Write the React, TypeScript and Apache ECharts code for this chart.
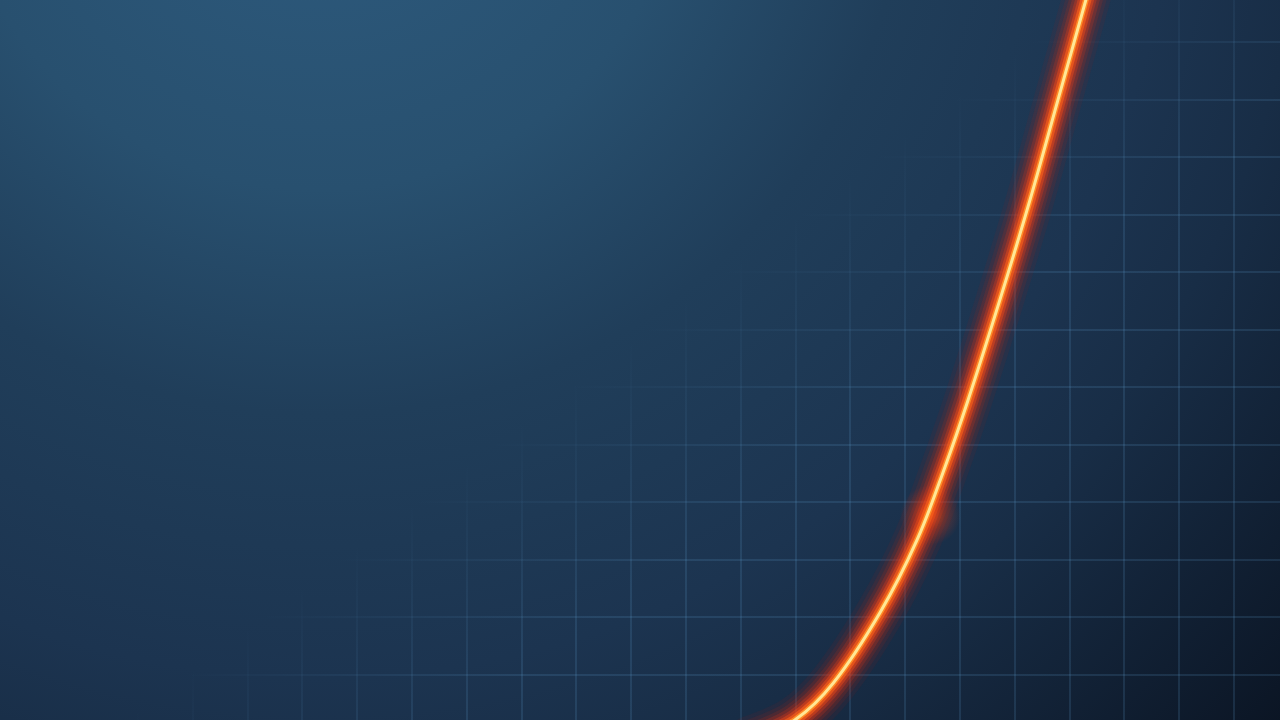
import React, { useEffect, useRef } from "react";
import * as echarts from "echarts";

// Curve samples (axis units: one grid cell = 1)
const curveX = [13.17, 13.99, 14.69, 15.54, 16.22, 16.73, 17.15, 17.73, 18.28, 18.79, 19.3, 19.45];
const curveY = [-1.14, -0.79, -0.15, 1.07, 2.34, 3.61, 4.77, 6.51, 8.25, 9.99, 11.73, 12.25];

// Bright flare spots along the curve
const glowX = [16.46, 13.75];
const glowY = [2.77, -0.75];
const glowSize = [60, 80];

const gridInterval = 1;
const xMax = 22.843;
const yMax = 11.73;

// Soft halo built from stacked translucent strokes (outer to inner)
const haloWidths = [48, 40, 33, 27, 21, 16, 11];
const haloColors = [
  "rgba(190,30,10,0.08)",
  "rgba(210,35,10,0.10)",
  "rgba(230,45,10,0.13)",
  "rgba(250,55,15,0.18)",
  "rgba(255,65,20,0.25)",
  "rgba(255,80,20,0.38)",
  "rgba(255,100,25,0.6)",
];

export default function App() {
  const ref = useRef<HTMLDivElement>(null);

  useEffect(() => {
    if (!ref.current) return;
    const chart = echarts.init(ref.current, undefined, { renderer: "svg" });
    const curve = curveX.map((x, i) => [x, curveY[i]]);
    const glow = glowX.map((x, i) => ({ value: [x, glowY[i]], symbolSize: glowSize[i] }));

    const gridFade = {
      type: "linear",
      x: 390,
      y: 520,
      x2: 510,
      y2: 680,
      global: true,
      colorStops: [
        { offset: 0, color: "rgba(95,160,210,0)" },
        { offset: 1, color: "rgba(95,160,210,0.22)" },
      ],
    };

    const hidden = {
      axisLine: { show: false },
      axisTick: { show: false },
      axisLabel: { show: false },
    };

    const curveLayer = (width: number, color: string, z: number) => ({
      type: "line",
      xAxisIndex: 1,
      yAxisIndex: 1,
      data: curve,
      smooth: 0.35,
      showSymbol: false,
      clip: false,
      silent: true,
      z,
      lineStyle: { width, color, cap: "round", join: "round" },
    });

    chart.setOption({
      animation: false,
      graphic: [
        {
          type: "rect",
          z: -10,
          silent: true,
          shape: { x: 0, y: 0, width: 1280, height: 720 },
          style: {
            fill: {
              type: "radial",
              x: 320,
              y: -180,
              r: 1320,
              global: true,
              colorStops: [
                { offset: 0, color: "#2e5c80" },
                { offset: 0.28, color: "#28506f" },
                { offset: 0.45, color: "#203e5a" },
                { offset: 0.65, color: "#1c3450" },
                { offset: 0.75, color: "#182d46" },
                { offset: 1, color: "#0b1524" },
              ],
            },
          },
        },
      ],
      grid: [
        { left: 28.2, right: 0, top: 0, bottom: 0, containLabel: false },
        { left: 28.2, right: 0, top: 0, bottom: 45.5, containLabel: false },
      ],
      xAxis: [
        {
          type: "value",
          gridIndex: 0,
          min: 0,
          max: xMax,
          interval: gridInterval,
          ...hidden,
          splitLine: { show: true, showMinLine: true, showMaxLine: false, lineStyle: { color: gridFade, width: 1.5 } },
        },
        {
          type: "value",
          gridIndex: 1,
          min: 0,
          max: xMax,
          interval: gridInterval,
          ...hidden,
          splitLine: { show: false },
        },
      ],
      yAxis: [
        {
          type: "value",
          gridIndex: 0,
          min: 0,
          max: 1,
          ...hidden,
          splitLine: { show: false },
        },
        {
          type: "value",
          gridIndex: 1,
          min: 0,
          max: yMax,
          interval: gridInterval,
          ...hidden,
          splitLine: { show: true, showMinLine: true, showMaxLine: false, lineStyle: { color: gridFade, width: 1.5 } },
        },
      ],
      series: [
        {
          type: "scatter",
          xAxisIndex: 1,
          yAxisIndex: 1,
          data: glow,
          silent: true,
          z: 1,
          itemStyle: {
            color: {
              type: "radial",
              x: 0.5,
              y: 0.5,
              r: 0.5,
              colorStops: [
                { offset: 0, color: "rgba(255,130,45,0.75)" },
                { offset: 0.45, color: "rgba(255,75,15,0.35)" },
                { offset: 1, color: "rgba(255,50,10,0)" },
              ],
            },
          },
        },
        ...haloWidths.map((w, i) => curveLayer(w, haloColors[i], 2 + i)),
        curveLayer(6, "#ff8a26", 10),
        curveLayer(3, "#ffe796", 11),
      ],
    });
    return () => chart.dispose();
  }, []);

  return (
    <div
      ref={ref}
      style={{ position: "fixed", left: 0, top: 0, width: 1280, height: 720 }}
    />
  );
}
